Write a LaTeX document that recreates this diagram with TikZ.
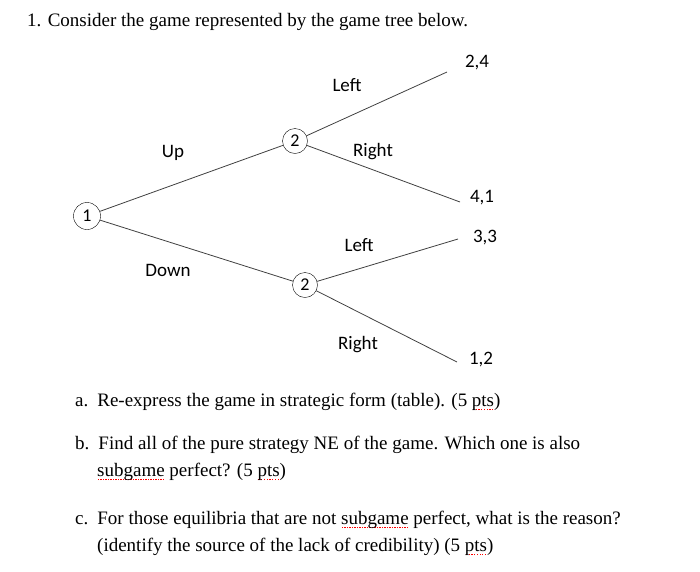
\documentclass[tikz,border=0pt]{standalone}
\usepackage{fontspec}
\setmainfont{Liberation Serif}
\newfontfamily\calfont{Carlito}
\newsavebox{\sqbox}
\newcommand{\sqw}[1]{\sbox{\sqbox}{#1}\leavevmode\rlap{\raisebox{-4pt}{\color{red}\hbox to \wd\sqbox{\xleaders\hbox to 2.5pt{\hss\rule{1.2pt}{1.2pt}\hss}\hfil}}}\usebox{\sqbox}}
\begin{document}
\begin{tikzpicture}[x=1pt,y=-1pt,
  pl/.style={circle,draw,inner sep=0pt,minimum size=27pt,font=\calfont\fontsize{18}{18}\selectfont},
  lab/.style={font=\calfont\fontsize{19}{19}\selectfont,inner sep=0pt},
  txt/.style={font=\fontsize{19}{22}\selectfont,inner sep=0pt,anchor=base west},
  br/.style={line width=0.8pt,draw=black!75}]
\useasboundingbox (0,0) rectangle (700,571);
\node[txt] (t0) at (27,26) {1. Consider the game represented by the game tree below.};
\node[pl] (n1) at (87,216) {1};
\node[pl,minimum size=25pt] (n2) at (295,141) {2};
\node[pl,minimum size=25pt] (n3) at (305,285) {2};
\coordinate (p24) at (447,72);
\coordinate (p41) at (460,202);
\coordinate (p33) at (458,239);
\coordinate (p12) at (457,362);
\draw[br] (n1) -- (n2);
\draw[br] (n1) -- (n3);
\draw[br] (n2) -- (p24);
\draw[br] (n2) -- (p41);
\draw[br] (n3) -- (p33);
\draw[br] (n3) -- (p12);
\node[lab] (l1) at (477,63) {2,4};
\node[lab] (l2) at (482,198) {4,1};
\node[lab] (l3) at (485,238) {3,3};
\node[lab] (l4) at (481,360) {1,2};
\node[lab] (a1) at (347,85) {Left};
\node[lab] (a2) at (173,153) {Up};
\node[lab] (a3) at (373,152) {Right};
\node[lab] (a4) at (168,270) {Down};
\node[lab] (a5) at (359,245) {Left};
\node[lab] (a6) at (358,345) {Right};
\node[txt] (qa) at (75,406) {a.\hspace{9pt}Re-express the game in strategic form (table). (5 \sqw{pts})};
\node[txt] (qb1) at (75,449) {b.\hspace{9pt}Find all of the pure strategy NE of the game. Which one is also};
\node[txt] (qb2) at (97,476) {\sqw{subgame} perfect? (5 \sqw{pts})};
\node[txt] (qc1) at (75,524) {c.\hspace{9pt}For those equilibria that are not \sqw{subgame} perfect, what is the reason?};
\node[txt] (qc2) at (97,551) {(identify the source of the lack of credibility) (5 \sqw{pts})};
\end{tikzpicture}
\end{document}
